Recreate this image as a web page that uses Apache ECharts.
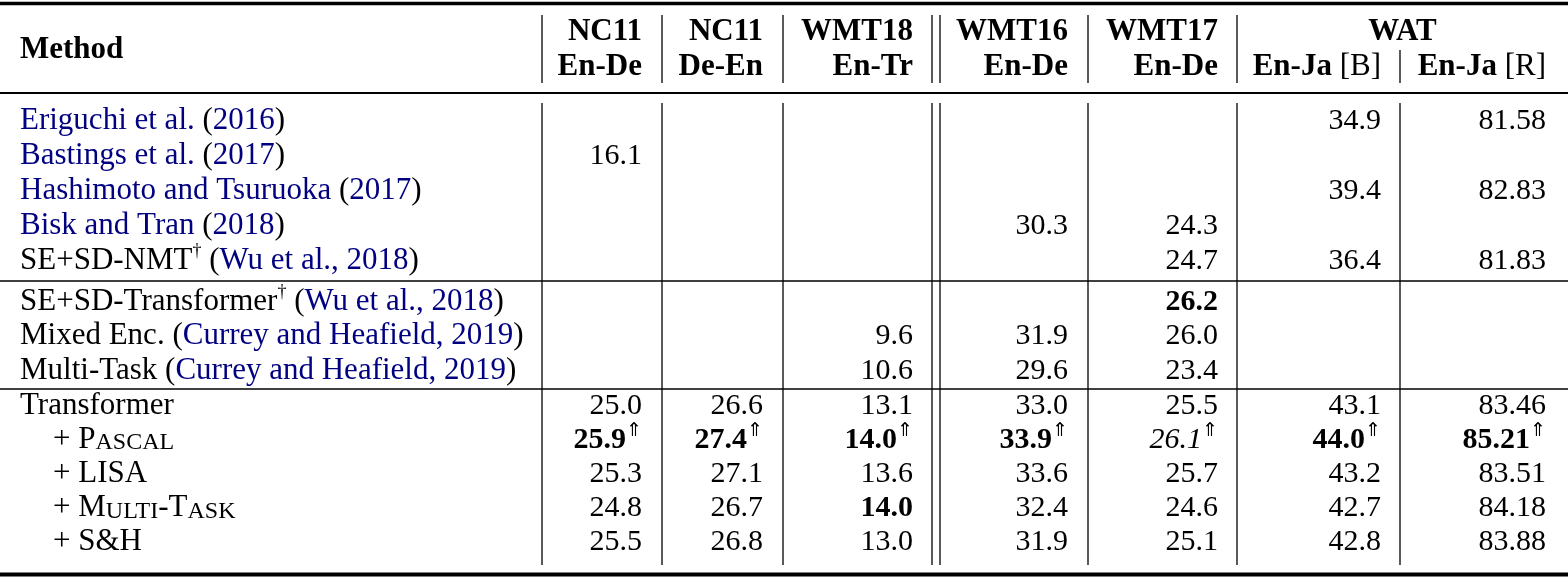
<!DOCTYPE html>
<html>
<head>
<meta charset="utf-8">
<script src="https://cdn.jsdelivr.net/npm/echarts@6/dist/echarts.min.js"></script>
<style>
html,body{margin:0;padding:0;background:#fff;}
#chart{width:1568px;height:578px;}
</style>
</head>
<body>
<div id="chart"></div>
<script>
// ================= DATA =================
const methods = [
  'Eriguchi et al. (2016)',
  'Bastings et al. (2017)',
  'Hashimoto and Tsuruoka (2017)',
  'Bisk and Tran (2018)',
  'SE+SD-NMT† (Wu et al., 2018)',
  'SE+SD-Transformer† (Wu et al., 2018)',
  'Mixed Enc. (Currey and Heafield, 2019)',
  'Multi-Task (Currey and Heafield, 2019)',
  'Transformer',
  '+ Pascal',
  '+ LISA',
  '+ Multi-Task',
  '+ S&H'
];
const nc11EnDe  = [null, 16.1, null, null, null, null, null, null, 25.0, 25.9, 25.3, 24.8, 25.5];
const nc11DeEn  = [null, null, null, null, null, null, null, null, 26.6, 27.4, 27.1, 26.7, 26.8];
const wmt18EnTr = [null, null, null, null, null, null, 9.6, 10.6, 13.1, 14.0, 13.6, 14.0, 13.0];
const wmt16EnDe = [null, null, null, 30.3, null, null, 31.9, 29.6, 33.0, 33.9, 33.6, 32.4, 31.9];
const wmt17EnDe = [null, null, null, 24.3, 24.7, 26.2, 26.0, 23.4, 25.5, 26.1, 25.7, 24.6, 25.1];
const watEnJaB  = [34.9, null, 39.4, null, 36.4, null, null, null, 43.1, 44.0, 43.2, 42.7, 42.8];
const watEnJaR  = [81.58, null, 82.83, null, 81.83, null, null, null, 83.46, 85.21, 83.51, 84.18, 83.88];
const columns = [nc11EnDe, nc11DeEn, wmt18EnTr, wmt16EnDe, wmt17EnDe, watEnJaB, watEnJaR];
const columnTitles = ['NC11', 'NC11', 'WMT18', 'WMT16', 'WMT17'];
const watTitle = 'WAT';
const columnSubtitles = ['En-De', 'De-En', 'En-Tr', 'En-De', 'En-De', 'En-Ja [B]', 'En-Ja [R]'];
const methodHeader = 'Method';
const rowGroupSizes = [5, 3, 5];

// ================= STYLE (kept apart from data) =================
const boldCells = [[5,4],[9,0],[9,1],[9,2],[9,3],[9,5],[9,6],[11,2]];
const italicCells = [[9,4]];
const arrowCells = [[9,0],[9,1],[9,2],[9,3],[9,4],[9,5],[9,6]];
const smallCapsRows = [9, 11];
const indentedRows = [9, 10, 11, 12];
const decimals = [1, 1, 1, 1, 1, 1, 2];

// ================= LAYOUT =================
const W = 1568;
const FONT = 'Liberation Serif';
const FS = 31;      // method + header text
const FN = 30;      // numbers
const CITE = '#000080';
const methodLeft = 20;
const colLeft = [542, 662, 783, 940, 1088, 1237, 1400];
const colTextRight = [642, 763, 913, 1068, 1218, 1381, 1546];
const groupBands = [[101.5, 175], [282.75, 103.5], [387, 170.6]];
const hdrY1 = 30, hdrY2 = 65, hdrMethodY = 48;
const fullSeps = [542, 662, 783, 932, 940, 1088, 1237];
const watSep = 1400;

function tok(extra) {
  const base = {fontFamily: FONT, fontSize: FS, color: '#000', lineHeight: 34, verticalAlign: 'bottom'};
  return Object.assign(base, extra || {});
}
const rich = {
  n:   tok(),
  b:   tok({fontWeight: 'bold'}),
  nn:  tok({fontSize: FN}),
  bn:  tok({fontSize: FN, fontWeight: 'bold'}),
  in:  tok({fontSize: FN, fontStyle: 'italic'}),
  c:   tok({color: CITE}),
  s:   tok({fontSize: 24, lineHeight: 30}),
  ind: tok({width: 33}),
  sup: tok({fontSize: 18, lineHeight: 20, verticalAlign: 'top'}),
  arr: tok({fontFamily: 'DejaVu Sans', fontSize: 19, lineHeight: 22, verticalAlign: 'top'})
};

function has(list, r, c) { return list.some(p => p[0] === r && (c === undefined || p[1] === c)); }
function plain(s) {
  return s.split('†').map((part, k, arr) => (part ? '{n|' + part + '}' : '') + (k < arr.length - 1 ? '{sup|†}' : '')).join('');
}
function smallCaps(s) {
  let out = '', run = '', lower = null;
  const flush = () => { if (run) out += lower ? '{s|' + run.toUpperCase() + '}' : '{n|' + run + '}'; run = ''; };
  for (const ch of s) {
    const isLower = ch >= 'a' && ch <= 'z';
    if (lower !== null && isLower !== lower) flush();
    lower = isLower; run += ch;
  }
  flush();
  return out;
}
function methodRich(r) {
  const s = methods[r];
  const prefix = indentedRows.includes(r) ? '{ind| }' : '';
  if (smallCapsRows.includes(r)) return prefix + smallCaps(s);
  let m = s.match(/^(.*) \(([^()]+, \d{4})\)$/);
  if (m) return prefix + plain(m[1] + ' (') + '{c|' + m[2] + '}{n|)}';
  m = s.match(/^(.*) \((\d{4})\)$/);
  if (m) return prefix + '{c|' + m[1] + '}{n| (}{c|' + m[2] + '}{n|)}';
  return prefix + plain(s);
}
function cellRich(r, c) {
  const v = columns[c][r];
  const t = v.toFixed(decimals[c]);
  const key = has(boldCells, r, c) ? 'bn' : (has(italicCells, r, c) ? 'in' : 'nn');
  return '{' + key + '|' + t + '}' + (has(arrowCells, r, c) ? '{arr|⇑}' : '');
}

const grids = [], xAxes = [], yAxes = [], series = [];
function addGrid(left, right, top, height, rows, col) {
  const gi = grids.length;
  grids.push({left: left, right: right, top: top, height: height});
  xAxes.push({gridIndex: gi, type: 'value', min: 0, max: 1, show: false});
  yAxes.push({gridIndex: gi, type: 'category', data: rows.map(String), inverse: true, show: false});
  const data = [];
  rows.forEach((r, i) => {
    if (col === 'method') data.push({value: [0, i], row: r});
    else if (columns[col][r] != null) data.push({value: [1, i], row: r});
  });
  series.push({
    type: 'scatter', xAxisIndex: gi, yAxisIndex: gi, symbolSize: 0, silent: true,
    itemStyle: {color: '#000', opacity: 1},
    label: {
      show: true, position: col === 'method' ? 'right' : 'left', distance: 0,
      fontFamily: FONT, fontSize: FS, lineHeight: 34, color: '#000', opacity: 1,
      formatter: p => col === 'method' ? methodRich(p.data.row) : cellRich(p.data.row, col),
      rich: rich
    },
    data: data
  });
}
let start = 0;
rowGroupSizes.forEach((n, g) => {
  const rows = [];
  for (let k = 0; k < n; k++) rows.push(start + k);
  const [top, h] = groupBands[g];
  addGrid(methodLeft, W - colLeft[0], top, h, rows, 'method');
  columns.forEach((col, c) => addGrid(colLeft[c], W - colTextRight[c], top, h, rows, c));
  start += n;
});

// ---- rules, separators, headers (decoration) ----
const graphic = [];
function hline(y, w) { graphic.push({type: 'line', silent: true, shape: {x1: 0, y1: y, x2: W, y2: y}, style: {stroke: '#000', lineWidth: w}}); }
function vline(x, y1, y2) { graphic.push({type: 'line', silent: true, shape: {x1: x, y1: y1, x2: x, y2: y2}, style: {stroke: '#000', lineWidth: 1.3}}); }
hline(3.5, 3.5);
hline(93, 1.8);
hline(281, 1.3);
hline(389, 1.3);
hline(574.5, 3.8);
fullSeps.forEach(x => { vline(x, 15, 83); vline(x, 103, 565); });
vline(watSep, 50, 83); vline(watSep, 103, 565);

function htext(text, x, y, align) {
  graphic.push({type: 'text', silent: true, style: {text: text, x: x, y: y, align: align, verticalAlign: 'middle', rich: rich, font: 'bold ' + FS + 'px ' + FONT}});
}
htext('{b|' + methodHeader + '}', methodLeft, hdrMethodY, 'left');
columnTitles.forEach((t, c) => htext('{b|' + t + '}', colTextRight[c], hdrY1, 'right'));
htext('{b|' + watTitle + '}', (colLeft[5] + W) / 2, hdrY1, 'center');
columnSubtitles.forEach((t, c) => {
  const m = t.match(/^(\S+) (\[.\])$/);
  const txt = m ? '{b|' + m[1] + '}{n| ' + m[2] + '}' : '{b|' + t + '}';
  htext(txt, colTextRight[c], hdrY2, 'right');
});

const chart = echarts.init(document.getElementById('chart'), null, {renderer: 'canvas'});
chart.setOption({
  backgroundColor: '#fff',
  animation: false,
  grid: grids,
  xAxis: xAxes,
  yAxis: yAxes,
  series: series,
  graphic: graphic
});
</script>
</body>
</html>
